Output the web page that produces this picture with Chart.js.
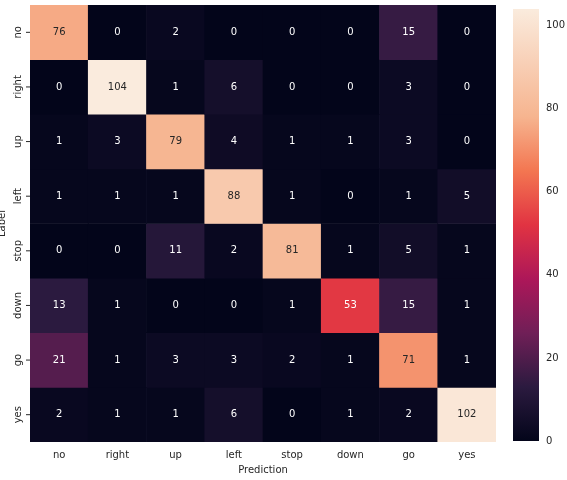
<!DOCTYPE html>
<html><head><script src="https://cdn.jsdelivr.net/npm/chart.js@4"></script>
<style>body{margin:0;background:#fff}#a{position:absolute;left:0;top:0}#b{position:absolute;left:498px;top:0}</style></head>
<body><div id="a" style="width:500px;height:480px"><canvas id="c1"></canvas></div>
<div id="b" style="width:69px;height:480px"><canvas id="c2"></canvas></div>
<script>
const labels=["no","right","up","left","stop","down","go","yes"];
const matrix=[
[76,0,2,0,0,0,15,0],
[0,104,1,6,0,0,3,0],
[1,3,79,4,1,1,3,0],
[1,1,1,88,1,0,1,5],
[0,0,11,2,81,1,5,1],
[13,1,0,0,1,53,15,1],
[21,1,3,3,2,1,71,1],
[2,1,1,6,0,1,2,102]];
const vmax=104;
const cbTicks=[0,20,40,60,80,100];
const stops=[[0,[3,5,26]],[0.125,[43,26,63]],[0.25,[112,31,87]],[0.375,[173,23,89]],[0.5,[225,51,66]],[0.625,[243,118,81]],[0.75,[246,180,143]],[1,[250,235,221]]];
function cmap(t){for(let i=1;i<stops.length;i++){if(t<=stops[i][0]){const [a,ca]=stops[i-1],[b,cb]=stops[i];const f=(t-a)/(b-a);return ca.map((v,k)=>Math.round(v+(cb[k]-v)*f));}}return stops[stops.length-1][1];}
const rgb=c=>`rgb(${c[0]},${c[1]},${c[2]})`;
function lum(c){const l=c.map(v=>{v/=255;return v<=0.03928?v/12.92:Math.pow((v+0.055)/1.055,2.4)});return 0.2126*l[0]+0.7152*l[1]+0.0722*l[2];}
const datasets=matrix.map((row,i)=>({label:labels[i],data:row.map(()=>[i,i+1]),backgroundColor:row.map(v=>rgb(cmap(v/vmax))),borderWidth:0,barPercentage:1,categoryPercentage:1,grouped:false}));
const textPlugin={id:'t',afterDatasetsDraw(ch){const ctx=ch.ctx;ctx.save();ctx.font='10px "DejaVu Sans"';ctx.textAlign='center';ctx.textBaseline='middle';
ch.data.datasets.forEach((ds,i)=>{const meta=ch.getDatasetMeta(i);meta.data.forEach((el,j)=>{const v=matrix[i][j];ctx.fillStyle=lum(cmap(v/vmax))>0.408?'#262626':'#fff';const y=(el.y+el.base)/2;ctx.fillText(v,el.x,y);});});
const ys=ch.scales.y;ctx.fillStyle='#262626';labels.forEach((l,i)=>{const y=ys.getPixelForValue(i+0.5);ctx.save();ctx.translate(ys.right-12,y);ctx.rotate(-Math.PI/2);ctx.fillText(l,0,0);ctx.restore();ctx.strokeStyle='#262626';ctx.beginPath();ctx.moveTo(ys.right-4,y);ctx.lineTo(ys.right,y);ctx.stroke();});
ctx.save();ctx.translate(ys.right-28,(ys.top+ys.bottom)/2);ctx.rotate(-Math.PI/2);ctx.fillText('Label',0,0);ctx.restore();ctx.restore();}};
new Chart(document.getElementById('c1'),{type:'bar',data:{labels,datasets},plugins:[textPlugin],
options:{responsive:true,maintainAspectRatio:false,animation:false,layout:{padding:{top:5,right:4,bottom:0}},
plugins:{legend:{display:false},tooltip:{enabled:false}},
scales:{x:{grid:{display:false,drawTicks:true,tickLength:4},border:{display:false},ticks:{color:'#262626',font:{family:'DejaVu Sans',size:10},maxRotation:0},title:{display:true,text:'Prediction',color:'#262626',font:{family:'DejaVu Sans',size:10},padding:{top:0}}},
y:{min:0,max:8,reverse:true,grid:{display:false},border:{display:false},ticks:{display:false},afterFit(s){s.width=30;}}}}});
const grad={id:'g',beforeDatasetsDraw(ch){const ys=ch.scales.y;const g=ch.ctx.createLinearGradient(0,ys.getPixelForValue(0),0,ys.getPixelForValue(vmax));stops.forEach(s=>g.addColorStop(s[0],rgb(s[1])));ch.data.datasets[0].backgroundColor=g;ch.getDatasetMeta(0).data[0].options.backgroundColor=g;}};
new Chart(document.getElementById('c2'),{type:'bar',data:{labels:[''],datasets:[{data:[[0,vmax]],backgroundColor:'#000',borderWidth:0,barPercentage:1,categoryPercentage:1}]},plugins:[grad],
options:{responsive:true,maintainAspectRatio:false,animation:false,layout:{padding:{top:5,bottom:39,left:15,right:0}},
plugins:{legend:{display:false},tooltip:{enabled:false}},
scales:{x:{display:false},y:{position:'right',min:0,max:vmax,afterBuildTicks(s){s.ticks=cbTicks.map(v=>({value:v}));},grid:{display:false,drawTicks:true,tickLength:4},border:{display:false},ticks:{color:'#262626',font:{family:'DejaVu Sans',size:10}},afterFit(s){s.width=28;}}}}});
</script></body></html>
